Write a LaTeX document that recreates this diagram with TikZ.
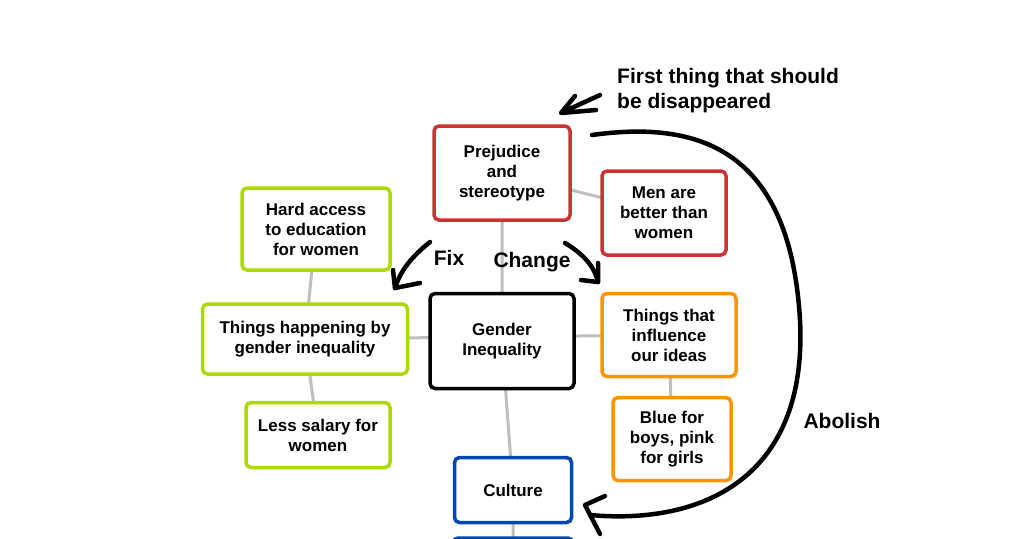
\documentclass[tikz,border=0pt]{standalone}
\usepackage{fontspec}
\setmainfont{Liberation Sans}
\begin{document}
\begin{tikzpicture}[x=1pt,y=-1pt,
  box/.style={draw=#1,line width=3.5pt,rounded corners=5pt,fill=white,align=center,font=\fontsize{17}{20}\selectfont\bfseries,inner sep=0pt},
  link/.style={draw=black!25,line width=3pt},
  hand/.style={line width=4.5pt,line cap=round,line join=round},
  lab/.style={font=\fontsize{21}{25}\selectfont\bfseries,inner sep=0pt}]
\useasboundingbox (0,0) rectangle (1024,538);
\coordinate (bt) at (513,548);
\draw[link] (502,173)--(502,341) (502,173)--(664,213) (305,339)--(669,335) (502,341)--(513,490)--(bt)
 (316,229)--(305,339)--(318,435) (669,335)--(672,439);
\node[box=red!75!black!80!white,minimum width=136pt,minimum height=94pt] (p) at (502,173) {Prejudice\\and\\stereotype};
\node[box=red!75!black!80!white,minimum width=124pt,minimum height=84pt] (m) at (664,213) {Men are\\better than\\women};
\node[box=lime!70!olive,minimum width=148pt,minimum height=82pt] (h) at (316,229) {Hard access\\to education\\for women};
\node[box=lime!70!olive,minimum width=205pt,minimum height=70pt] (t) at (305,339) {Things happening by\\gender inequality};
\node[box=black,minimum width=144pt,minimum height=95pt] (g) at (502,341) {Gender\\Inequality};
\node[box=orange!85!yellow,minimum width=134pt,minimum height=83pt] (i) at (669,335) {Things that\\influence\\our ideas};
\node[box=lime!70!olive,minimum width=144pt,minimum height=65pt] (l) at (318,435) {Less salary for\\women};
\node[box=orange!85!yellow,minimum width=118pt,minimum height=83pt] (b) at (672,439) {Blue for\\boys, pink\\for girls};
\node[box=blue!60!cyan!70!black,minimum width=117pt,minimum height=65pt] (c) at (513,490) {Culture};
\node[box=blue!60!cyan!70!black,minimum width=120pt,minimum height=20pt] (c2) at (513,548) {};
% hand-drawn arrows
\draw[hand] (600,95)--(563,112) (575,96)--(561,113)--(596,110);
\draw[hand] (430,242) .. controls (410,258) and (400,272) .. (395,288);
\draw[hand] (393,270)--(395,288)--(420,283);
\draw[hand] (565,243) .. controls (585,255) and (595,268) .. (598,282);
\draw[hand] (581,280)--(598,282)--(598,263);
\draw[hand] (592,135) .. controls (700,120) and (790,150) .. (800,320) .. controls (808,480) and (700,525) .. (590,515);
\draw[hand] (605,496)--(585,505)--(600,534);
\node[lab] (fix) at (449,258) {Fix};
\node[lab] (ch) at (532,262) {Change};
\node[lab] (ab) at (842,421) {Abolish};
\node[lab,anchor=north west,align=left] (ft) at (617,68) {First thing that should\\be disappeared};
\end{tikzpicture}
\end{document}
